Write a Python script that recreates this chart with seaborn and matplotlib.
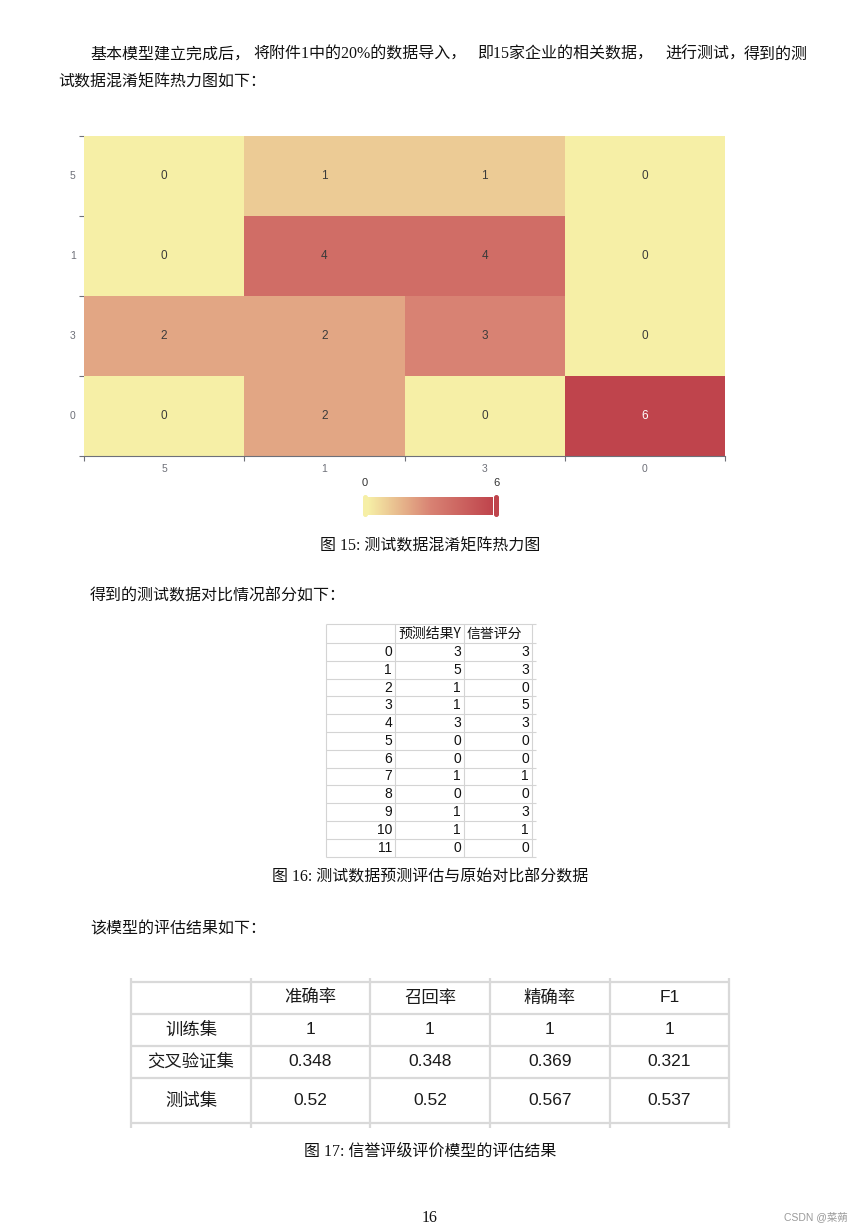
import numpy as np
import pandas as pd
import seaborn as sns
import matplotlib.pyplot as plt
from matplotlib.colors import LinearSegmentedColormap
from matplotlib.patches import FancyBboxPatch

sns.set_style("white")
plt.rcParams["font.family"] = ["Liberation Serif", "Noto Sans CJK SC", "DejaVu Sans"]

# ---------- datos ----------
etiquetas_pred = ["5", "1", "3", "0"]
etiquetas_real = ["5", "1", "3", "0"]
matriz = [
    [0, 1, 1, 0],
    [0, 4, 4, 0],
    [2, 2, 3, 0],
    [0, 2, 0, 6],
]

indice = list(range(12))
pred_y = [3, 5, 1, 1, 3, 0, 0, 1, 0, 1, 1, 0]
puntaje = [3, 3, 0, 5, 3, 0, 0, 1, 0, 3, 1, 0]
cabecera1 = ["预测结果Y", "信誉评分"]

metricas = ["准确率", "召回率", "精确率", "F1"]
conjuntos = ["训练集", "交叉验证集", "测试集"]
resultados = [
    [1, 1, 1, 1],
    [0.348, 0.348, 0.369, 0.321],
    [0.52, 0.52, 0.567, 0.537],
]

W, H = 860, 1232
SERIF = ["Liberation Serif", "Noto Sans CJK SC"]
SANS = ["Liberation Sans", "Noto Sans CJK SC"]
CJK = ["Noto Sans CJK SC", "Liberation Sans"]
GRIS = "#6e7079"

fig = plt.figure(figsize=(W / 100, H / 100), dpi=100)
fig.patch.set_facecolor("white")

# capa de pagina en coordenadas de pixel
page = fig.add_axes([0, 0, 1, 1])
page.set_xlim(0, W)
page.set_ylim(H, 0)
page.axis("off")


def px_axes(x0, y0, x1, y1):
    return fig.add_axes([x0 / W, 1 - y1 / H, (x1 - x0) / W, (y1 - y0) / H])


# ---------- texto ----------
tam = 11.5
# primera linea justificada: cada trozo en su sitio
trozos = [
    ("基本模型建立完成后，", 90),
    ("将附件1中的20%的数据导入，", 253),
    ("即15家企业的相关数据，", 478),
    ("进行测试，", 665),
    ("得到的测", 744),
]
for t, x in trozos:
    page.text(x, 55, t, family=SERIF, fontsize=tam, va="center", color="#111")
page.text(58, 82, "试数据混淆矩阵热力图如下：", family=SERIF, fontsize=tam, va="center", color="#111")
page.text(430, 546, "图 15: 测试数据混淆矩阵热力图", family=SERIF, fontsize=tam, ha="center", va="center", color="#111")
page.text(90, 597, "得到的测试数据对比情况部分如下：", family=SERIF, fontsize=tam, va="center", color="#111")
page.text(430, 878, "图 16: 测试数据预测评估与原始对比部分数据", family=SERIF, fontsize=tam, ha="center", va="center", color="#111")
page.text(90, 929, "该模型的评估结果如下：", family=SERIF, fontsize=tam, va="center", color="#111")
page.text(430, 1152, "图 17: 信誉评级评价模型的评估结果", family=SERIF, fontsize=tam, ha="center", va="center", color="#111")
page.text(430, 1218, "16", family=SERIF, fontsize=tam, ha="center", va="center", color="#111")
page.text(848, 1217, "CSDN @菜蒴", family=SANS, fontsize=7.5, ha="right", va="center", color="#9a9a9a")

# ---------- mapa de calor ----------
cmap = LinearSegmentedColormap.from_list("ec", ["#f6efa6", "#d88273", "#bf444c"])
df = pd.DataFrame(matriz, index=etiquetas_real, columns=etiquetas_pred)

ax = px_axes(84, 136, 725, 456)
cax = px_axes(368, 497, 493, 515)
sns.heatmap(
    df, ax=ax, cmap=cmap, vmin=0, vmax=6, annot=True, fmt="d",
    annot_kws={"fontsize": 8.5, "color": "#3a3a3a", "family": SANS},
    cbar=True, cbar_ax=cax, cbar_kws={"orientation": "horizontal"},
)
for txt in ax.texts:
    if txt.get_text() == "6":
        txt.set_color("white")

ax.set_xlabel("")
ax.set_ylabel("")
ax.tick_params(which="major", length=0, pad=6, labelsize=7.5, labelcolor=GRIS)
ax.set_xticks(np.arange(len(etiquetas_pred) + 1), minor=True)
ax.set_yticks(np.arange(len(etiquetas_real) + 1), minor=True)
ax.tick_params(which="minor", length=3.5, color=GRIS, width=0.8)
ax.tick_params(axis="y", which="both", left=True)
ax.tick_params(axis="x", which="both", bottom=True)
plt.setp(ax.get_yticklabels(), rotation=0, family=SANS)
plt.setp(ax.get_xticklabels(), rotation=0, family=SANS)
ax.spines["bottom"].set_visible(True)
ax.spines["bottom"].set_color(GRIS)
ax.spines["bottom"].set_linewidth(0.8)

cb = ax.collections[0].colorbar
cb.outline.set_visible(False)
cax.set_xticks([])
cax.set_yticks([])

# manijas de la barra de color
for x0, w, c in [(363, 5, "#f6efa6"), (494, 5, "#bf444c")]:
    page.add_patch(FancyBboxPatch((x0, 495), w, 22, boxstyle="round,pad=0,rounding_size=2.5",
                                  facecolor=c, edgecolor="none"))
page.text(365, 483, "0", family=SANS, fontsize=8, ha="center", va="center", color="#333")
page.text(496, 483, "6", family=SANS, fontsize=8, ha="center", va="center", color="#333")

# ---------- tabla 1 (captura tipo Excel) ----------
t_top, t_head, t_row = 624, 643, 17.8
cols1 = [326, 395, 464, 532]
n = len(indice)
filas = [t_top, t_head] + [t_head + (k + 1) * t_row for k in range(n)]
page.hlines(filas, 326, 536, color="#d4d4d4", lw=0.8)
page.vlines(cols1, t_top, filas[-1], color="#d4d4d4", lw=0.8)
for j, h in enumerate(cabecera1):
    page.text(cols1[j + 1] + 3, (t_top + t_head) / 2, h, family=CJK, fontsize=10,
              va="center", color="#111")
for k in range(n):
    yc = t_head + (k + 0.5) * t_row
    for j, v in enumerate([indice[k], pred_y[k], puntaje[k]]):
        page.text(cols1[j + 1] - 3, yc, str(v), family=SANS, fontsize=10,
                  ha="right", va="center", color="#111")

# ---------- tabla 2 ----------
hl = [982, 1014, 1046, 1078, 1123]
vl = [131, 251, 370, 490, 610, 729]
page.hlines(hl, vl[0], vl[-1], color="#d9d9d9", lw=1.6)
page.vlines(vl, 978, 1128, color="#d9d9d9", lw=1.6)
cx = [(vl[i] + vl[i + 1]) / 2 for i in range(len(vl) - 1)]
cy = [(hl[i] + hl[i + 1]) / 2 for i in range(len(hl) - 1)]
for j, m in enumerate(metricas):
    page.text(cx[j + 1], cy[0], m, family=SANS, fontsize=12.5, ha="center", va="center", color="#1a1a1a")
for i, s in enumerate(conjuntos):
    page.text(cx[0], cy[i + 1], s, family=CJK, fontsize=12.5, ha="center", va="center", color="#1a1a1a")
    for j, v in enumerate(resultados[i]):
        page.text(cx[j + 1], cy[i + 1], f"{v:g}", family=SANS, fontsize=12.5,
                  ha="center", va="center", color="#1a1a1a")

fig.savefig("out.png", dpi=100, facecolor="white")
